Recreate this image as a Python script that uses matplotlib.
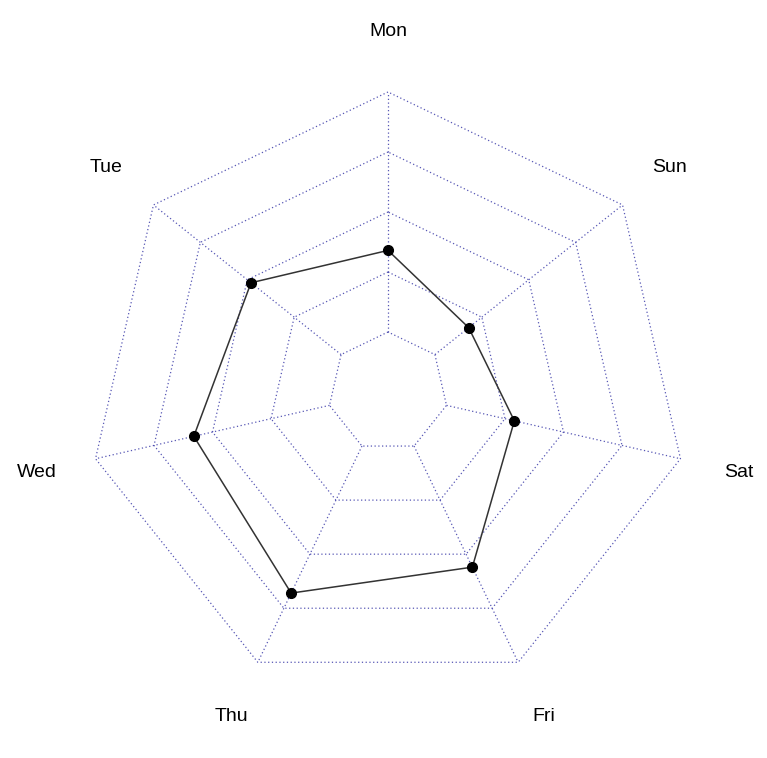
import numpy as np
import matplotlib.pyplot as plt

# jours dans l'ordre anti-horaire depuis le haut
jours = ["Mon", "Tue", "Wed", "Thu", "Fri", "Sat", "Sun"]
valeurs = [34, 48, 58, 68, 56, 29, 18]
val_min = 0
val_max = 100
segments = 4

plt.rcParams['font.family'] = ['Liberation Sans', 'DejaVu Sans']

fig = plt.figure(figsize=(7.67, 7.58), dpi=100)
ax = fig.add_axes([0, 0, 1, 1])

n = len(jours)
angles = np.pi / 2 + 2 * np.pi * np.arange(n) / n
cx = np.cos(angles)
cy = np.sin(angles)

# anneaux de la grille (centre non nul, comme fmsb)
for i in range(segments + 1):
    r = (i + 1) / (segments + 1)
    ax.plot(np.append(cx, cx[0]) * r, np.append(cy, cy[0]) * r,
            color='#3a3aa8', linestyle=(0, (1, 2)), linewidth=0.9, alpha=0.85)

# axes radiaux
for k in range(n):
    r0 = 1 / (segments + 1)
    ax.plot([cx[k] * r0, cx[k]], [cy[k] * r0, cy[k]],
            color='#3a3aa8', linestyle=(0, (1, 2)), linewidth=0.9, alpha=0.85)

# donnees
v = np.array(valeurs, dtype=float)
rayon = (v - val_min) / (val_max - val_min) * segments / (segments + 1) + 1 / (segments + 1)
px = np.append(cx * rayon, cx[0] * rayon[0])
py = np.append(cy * rayon, cy[0] * rayon[0])
ax.plot(px, py, color='#333333', linewidth=1.1)
ax.plot(cx * rayon, cy * rayon, 'o', color='black', markersize=7)

for k in range(n):
    ax.text(cx[k] * 1.2, cy[k] * 1.2, jours[k], ha='center', va='center', fontsize=14)

ax.set_xlim(-388 / 300, (767 - 388) / 300)
ax.set_ylim(-366 / 300, 392 / 300)
ax.set_aspect('equal')
ax.axis('off')

plt.savefig('out.png', dpi=100)
